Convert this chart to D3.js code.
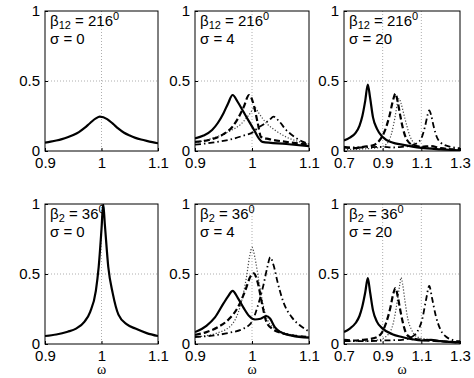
<!DOCTYPE html>
<html>
<head>
<meta charset="utf-8">
<script src="https://cdn.jsdelivr.net/npm/d3@7"></script>
<style>
  body { margin: 0; background: #fff; }
  text { font-family: "Liberation Sans", Arial, Helvetica, sans-serif; fill: #000; }
</style>
</head>
<body>
<div id="chart"></div>
<script>
// tick values
const yTicks = [0, 0.5, 1];
const xTicksNarrow = [0.9, 1, 1.1];
const xTicksWide = [0.7, 0.9, 1.1, 1.3];

// panel annotations
const rowSymbols = ["12", "2"];
const rowAngles = ["216", "36"];
const sigmas = [0, 4, 20];

// --- top row, sigma = 0 ---
const top0Solid = [[0.90,0.06],[0.91,0.067],[0.92,0.075],[0.93,0.085],[0.94,0.098],[0.95,0.114],[0.96,0.135],[0.97,0.165],[0.98,0.2],[0.99,0.233],[0.997,0.245],[1.01,0.228],[1.02,0.195],[1.03,0.16],[1.04,0.13],[1.05,0.11],[1.06,0.094],[1.07,0.082],[1.08,0.072],[1.09,0.063],[1.10,0.055]];

// --- top row, sigma = 4 ---
const top4Solid = [[0.90,0.09],[0.915,0.11],[0.93,0.15],[0.94,0.2],[0.95,0.27],[0.958,0.34],[0.966,0.4],[0.975,0.35],[0.985,0.28],[0.995,0.21],[1.005,0.14],[1.012,0.09],[1.018,0.065],[1.06,0.05],[1.10,0.035]];
const top4Dash = [[0.90,0.065],[0.93,0.085],[0.95,0.12],[0.965,0.17],[0.975,0.23],[0.985,0.31],[0.995,0.4],[1.003,0.33],[1.01,0.2],[1.016,0.1],[1.03,0.085],[1.06,0.065],[1.10,0.045]];
const top4Dot = [[0.90,0.06],[0.93,0.09],[0.96,0.14],[0.98,0.19],[0.995,0.26],[1.005,0.31],[1.012,0.27],[1.025,0.2],[1.04,0.15],[1.06,0.1],[1.08,0.07],[1.10,0.05]];
const top4DashDot = [[0.90,0.045],[0.93,0.06],[0.96,0.08],[0.985,0.11],[1.0,0.13],[1.012,0.17],[1.02,0.19],[1.03,0.22],[1.038,0.245],[1.048,0.21],[1.06,0.15],[1.075,0.1],[1.09,0.065],[1.10,0.05]];

// --- top row, sigma = 20 ---
const top20Solid = [[0.70,0.075],[0.73,0.095],[0.76,0.13],[0.78,0.18],[0.795,0.25],[0.81,0.36],[0.823,0.475],[0.835,0.38],[0.85,0.24],[0.87,0.16],[0.9,0.1],[0.95,0.06],[1.0,0.045],[1.1,0.022],[1.2,0.012],[1.3,0.005]];
const top20Dash = [[0.70,0.03],[0.75,0.02],[0.8,0.03],[0.85,0.04],[0.88,0.07],[0.91,0.14],[0.935,0.25],[0.955,0.37],[0.966,0.41],[0.978,0.35],[0.99,0.26],[1.005,0.16],[1.025,0.08],[1.06,0.04],[1.1,0.03],[1.15,0.035],[1.2,0.02],[1.3,0.01]];
const top20Dot = [[0.70,0.01],[0.8,0.015],[0.88,0.025],[0.92,0.05],[0.945,0.12],[0.965,0.25],[0.978,0.35],[0.985,0.375],[0.995,0.34],[1.01,0.26],[1.025,0.18],[1.04,0.11],[1.06,0.06],[1.1,0.03],[1.2,0.015],[1.3,0.01]];
const top20DashDot = [[0.70,0.025],[0.8,0.025],[0.9,0.03],[0.95,0.025],[1.0,0.03],[1.05,0.04],[1.08,0.06],[1.1,0.09],[1.12,0.18],[1.133,0.26],[1.141,0.29],[1.15,0.26],[1.163,0.18],[1.18,0.1],[1.2,0.06],[1.25,0.03],[1.3,0.02]];

// --- bottom row, sigma = 0 ---
const bot0Solid = [[0.90,0.057],[0.92,0.068],[0.94,0.088],[0.955,0.11],[0.97,0.16],[0.98,0.23],[0.99,0.38],[0.995,0.55],[1.0,0.82],[1.003,1.0],[1.006,0.85],[1.012,0.55],[1.02,0.36],[1.03,0.21],[1.045,0.14],[1.06,0.11],[1.08,0.078],[1.10,0.057]];

// --- bottom row, sigma = 4 ---
const bot4Solid = [[0.90,0.085],[0.92,0.13],[0.935,0.19],[0.95,0.29],[0.958,0.34],[0.966,0.38],[0.975,0.33],[0.985,0.26],[0.995,0.2],[1.005,0.175],[1.015,0.18],[1.025,0.2],[1.032,0.18],[1.04,0.12],[1.05,0.085],[1.07,0.06],[1.10,0.045]];
const bot4Dash = [[0.90,0.065],[0.92,0.085],[0.94,0.12],[0.96,0.18],[0.975,0.26],[0.988,0.38],[0.997,0.48],[1.003,0.505],[1.01,0.44],[1.018,0.28],[1.025,0.16],[1.035,0.11],[1.06,0.07],[1.10,0.05]];
const bot4Dot = [[0.90,0.05],[0.94,0.08],[0.965,0.14],[0.98,0.28],[0.99,0.47],[0.996,0.63],[1.0,0.69],[1.005,0.62],[1.012,0.45],[1.02,0.27],[1.03,0.15],[1.05,0.09],[1.08,0.06],[1.10,0.05]];
const bot4DashDot = [[0.90,0.05],[0.93,0.06],[0.96,0.08],[0.985,0.11],[1.0,0.16],[1.01,0.27],[1.02,0.42],[1.027,0.55],[1.032,0.62],[1.038,0.56],[1.045,0.44],[1.055,0.3],[1.07,0.19],[1.085,0.13],[1.10,0.09]];

// --- bottom row, sigma = 20 ---
const bot20Solid = [[0.70,0.085],[0.73,0.11],[0.76,0.15],[0.78,0.2],[0.795,0.27],[0.81,0.37],[0.823,0.47],[0.835,0.37],[0.85,0.24],[0.87,0.16],[0.9,0.11],[0.95,0.07],[1.0,0.05],[1.05,0.035],[1.1,0.025],[1.15,0.03],[1.2,0.02],[1.3,0.01]];
const bot20Dash = [[0.70,0.03],[0.75,0.025],[0.8,0.03],[0.85,0.04],[0.89,0.07],[0.915,0.14],[0.94,0.26],[0.955,0.36],[0.966,0.4],[0.978,0.34],[0.99,0.25],[1.005,0.15],[1.02,0.08],[1.04,0.05],[1.1,0.03],[1.2,0.02],[1.3,0.01]];
const bot20Dot = [[0.70,0.02],[0.8,0.02],[0.88,0.03],[0.93,0.07],[0.955,0.15],[0.975,0.3],[0.988,0.42],[0.995,0.475],[1.003,0.43],[1.015,0.31],[1.03,0.18],[1.05,0.1],[1.08,0.05],[1.15,0.03],[1.3,0.015]];
const bot20DashDot = [[0.70,0.02],[0.8,0.02],[0.9,0.025],[1.0,0.03],[1.05,0.05],[1.08,0.09],[1.105,0.18],[1.125,0.32],[1.141,0.415],[1.155,0.33],[1.175,0.2],[1.2,0.1],[1.23,0.05],[1.26,0.03],[1.3,0.02]];

const lineStyles = {
  solid:   {width: 2.2, dash: null,        color: "#000"},
  dash:    {width: 2.2, dash: "6,3",       color: "#000"},
  dot:     {width: 1.2, dash: "1.2,1.8",   color: "#444"},
  dashdot: {width: 1.8, dash: "6,3,1.5,3", color: "#000"}
};

const panels = [
  {row: 0, col: 0, curves: [["solid", top0Solid]]},
  {row: 0, col: 1, curves: [["dot", top4Dot], ["dashdot", top4DashDot], ["dash", top4Dash], ["solid", top4Solid]]},
  {row: 0, col: 2, curves: [["dot", top20Dot], ["dashdot", top20DashDot], ["dash", top20Dash], ["solid", top20Solid]]},
  {row: 1, col: 0, curves: [["solid", bot0Solid]]},
  {row: 1, col: 1, curves: [["dot", bot4Dot], ["dashdot", bot4DashDot], ["dash", bot4Dash], ["solid", bot4Solid]]},
  {row: 1, col: 2, curves: [["dot", bot20Dot], ["dashdot", bot20DashDot], ["dash", bot20Dash], ["solid", bot20Solid]]}
];

const width = 474, height = 378;
const colLeft = [45, 195, 344];
const colWidth = [113, 114, 116];
const rowTop = [11, 204];
const panelH = 140;

const svg = d3.select("#chart").append("svg")
  .attr("width", width)
  .attr("height", height);

panels.forEach((p, i) => {
  const wide = p.col === 2;
  const ticks = wide ? xTicksWide : xTicksNarrow;
  const w = colWidth[p.col];

  const x = d3.scaleLinear().domain(wide ? [0.7, 1.3] : [0.9, 1.1]).range([0, w]);
  const y = d3.scaleLinear().domain([0, 1]).range([panelH, 0]);

  const g = svg.append("g")
    .attr("transform", `translate(${colLeft[p.col]},${rowTop[p.row]})`);

  g.append("clipPath").attr("id", "clip" + i)
    .append("rect").attr("width", w).attr("height", panelH);

  // dotted grid lines
  g.selectAll(".gx").data(ticks.slice(1, -1)).enter().append("line")
    .attr("x1", d => x(d)).attr("x2", d => x(d))
    .attr("y1", 0).attr("y2", panelH)
    .attr("stroke", "#999").attr("stroke-width", 0.8).attr("stroke-dasharray", "1,2");
  g.selectAll(".gy").data(yTicks.slice(1, -1)).enter().append("line")
    .attr("x1", 0).attr("x2", w)
    .attr("y1", d => y(d)).attr("y2", d => y(d))
    .attr("stroke", "#999").attr("stroke-width", 0.8).attr("stroke-dasharray", "1,2");

  // annotation
  const t = g.append("text").attr("x", 5).attr("y", 15).style("font-size", "15px");
  t.append("tspan").text("\u03b2");
  t.append("tspan").attr("dy", 3).style("font-size", "11px").text(rowSymbols[p.row]);
  t.append("tspan").attr("dy", -3).text(" = " + rowAngles[p.row]);
  t.append("tspan").attr("dy", -6).style("font-size", "11px").text("0");
  g.append("text").attr("x", 5).attr("y", 33).style("font-size", "15px")
    .text("\u03c3 = " + sigmas[p.col]);

  // curves
  const line = d3.line()
    .x(d => x(d[0]))
    .y(d => y(d[1]))
    .curve(d3.curveMonotoneX);

  p.curves.forEach(([style, data]) => {
    const s = lineStyles[style];
    g.append("path")
      .attr("clip-path", `url(#clip${i})`)
      .attr("d", line(data))
      .attr("fill", "none")
      .attr("stroke", s.color)
      .attr("stroke-width", s.width)
      .attr("stroke-dasharray", s.dash);
  });

  // axes
  g.append("g")
    .attr("transform", `translate(0,${panelH})`)
    .call(d3.axisBottom(x).tickValues(ticks).tickSizeInner(-3).tickSizeOuter(0).tickPadding(6)
      .tickFormat(d3.format("")))
    .call(a => a.select(".domain").remove())
    .selectAll("text").style("font-size", "15px");

  g.append("g")
    .call(d3.axisLeft(y).tickValues(yTicks).tickSizeInner(-3).tickSizeOuter(0).tickPadding(5)
      .tickFormat(d3.format("")))
    .call(a => a.select(".domain").remove())
    .selectAll("text").style("font-size", "15px");

  // frame
  g.append("rect")
    .attr("width", w).attr("height", panelH)
    .attr("fill", "none").attr("stroke", "#000").attr("stroke-width", 1);

  if (p.row === 1) {
    g.append("text")
      .attr("x", w / 2).attr("y", 170)
      .attr("text-anchor", "middle")
      .style("font-family", "'Liberation Serif', 'DejaVu Serif', serif")
      .style("font-size", "14px")
      .text("\u03c9");
  }
});
</script>
</body>
</html>
